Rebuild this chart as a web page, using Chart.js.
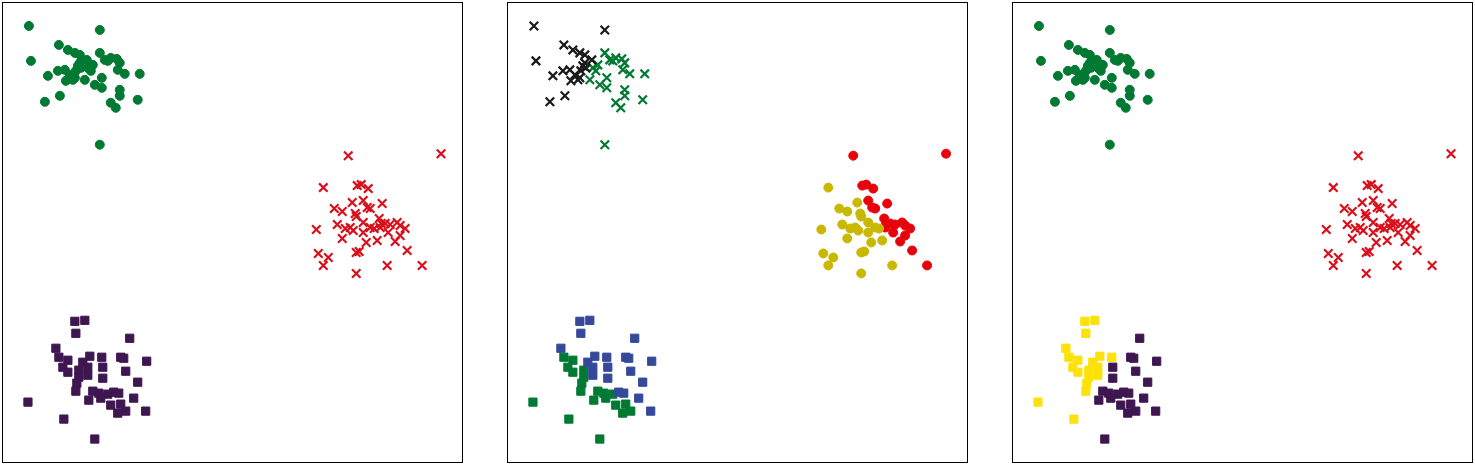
<!DOCTYPE html>
<html>
<head>
<meta charset="utf-8">
<script src="https://cdn.jsdelivr.net/npm/chart.js@4"></script>
<style>
  html, body { margin: 0; padding: 0; background: #fff; }
  body { width: 1475px; height: 467px; position: relative; overflow: hidden; }
  .panel { position: absolute; top: 2px; width: 459px; height: 459px; border: 1px solid #000; }
  .panel canvas { display: block; }
</style>
</head>
<body>
<div class="panel" style="left:2px"><canvas id="c1" width="459" height="459"></canvas></div>
<div class="panel" style="left:507px"><canvas id="c2" width="459" height="459"></canvas></div>
<div class="panel" style="left:1012px"><canvas id="c3" width="459" height="459"></canvas></div>
<script>
// point sets (same points in all three panels)
// top cluster, split as in the middle panel
const topBlack = [[26,437],[97,433],[56,418],[65,413],[72,410],[77,408],[28,402],[45,387],[55,392],[62,393],[67,388],[72,385],[75,397],[77,400],[78,395],[63,382],[57,367],[42,361],[84,403],[73,392],[70,383]];
const topGreen = [[97,410],[102,403],[108,405],[114,404],[117,400],[115,393],[122,389],[137,389],[90,398],[88,392],[82,383],[92,378],[99,385],[99,375],[117,373],[117,367],[108,360],[113,355],[135,363],[97,318],[85,395],[105,402]];

// right cluster
const rightRed = [[346,307],[439,309],[355,277],[359,278],[366,274],[361,262],[365,255],[368,254],[380,259],[377,244],[379,239],[383,239],[388,238],[395,240],[398,237],[403,234],[386,230],[393,221],[398,227],[405,212],[420,197],[378,235]];
const rightYellow = [[321,275],[350,260],[332,254],[340,251],[353,249],[354,246],[361,240],[335,238],[343,234],[348,235],[351,232],[361,230],[368,235],[372,234],[314,233],[340,224],[364,220],[375,222],[354,210],[357,211],[316,209],[326,205],[321,197],[385,197],[354,189]];

// bottom cluster: blue/green in the middle panel, yellow/purple in the right one
const bottomBlueYellow = [[72,141],[82,142],[73,129],[53,114],[87,106],[99,105],[80,100],[85,95],[85,87]];
const bottomBluePurple = [[127,124],[118,105],[121,104],[144,101],[100,95],[123,91],[100,84],[135,80],[111,70],[116,69],[131,64],[143,51]];
const bottomGreenYellow = [[56,105],[65,102],[60,95],[65,90],[76,92],[76,85],[74,79],[73,71],[25,60],[61,43]];
const bottomGreenPurple = [[90,71],[96,69],[105,68],[86,62],[98,64],[108,57],[118,58],[115,49],[123,51],[92,23]];

const topAll = topBlack.concat(topGreen);
const rightAll = rightRed.concat(rightYellow);
const bottomAll = bottomBlueYellow.concat(bottomBluePurple, bottomGreenYellow, bottomGreenPurple);

const GREEN = "#007a33";
const RED = "#d8101c";
const PURPLE = "#3e1650";
const BLACK = "#1a1a1a";
const OLIVE = "#c9b800";
const BRIGHT_RED = "#e8000b";
const BLUE = "#35489a";
const YELLOW = "#fde10a";

const toXY = (pts) => pts.map(([x, y]) => ({ x, y }));

const circles = (pts, color) => ({
  data: toXY(pts), pointStyle: "circle", pointRadius: 4.5,
  backgroundColor: color, borderColor: color, borderWidth: 1,
});
const crosses = (pts, color) => ({
  data: toXY(pts), pointStyle: "crossRot", pointRadius: 6,
  backgroundColor: color, borderColor: color, borderWidth: 2.2,
});
const squares = (pts, color) => ({
  data: toXY(pts), pointStyle: "rect", pointRadius: 5.8,
  backgroundColor: color, borderColor: color, borderWidth: 1,
});

function makeChart(id, datasets) {
  const ctx = document.getElementById(id).getContext("2d");
  return new Chart(ctx, {
    type: "scatter",
    data: { datasets: datasets.map((d) => ({ ...d, clip: false, pointHoverRadius: d.pointRadius })) },
    options: {
      responsive: false,
      animation: false,
      events: [],
      layout: { padding: 0, autoPadding: false },
      plugins: { legend: { display: false }, tooltip: { enabled: false } },
      scales: {
        x: { type: "linear", min: 0, max: 460, display: false },
        y: { type: "linear", min: 0, max: 460, display: false },
      },
    },
  });
}

// true groups
makeChart("c1", [
  circles(topAll, GREEN),
  crosses(rightAll, RED),
  squares(bottomAll, PURPLE),
]);

// six clusters
makeChart("c2", [
  crosses(topBlack, BLACK),
  crosses(topGreen, GREEN),
  circles(rightYellow, OLIVE),
  circles(rightRed, BRIGHT_RED),
  squares(bottomBlueYellow.concat(bottomBluePurple), BLUE),
  squares(bottomGreenYellow.concat(bottomGreenPurple), GREEN),
]);

// four clusters
makeChart("c3", [
  circles(topAll, GREEN),
  crosses(rightAll, RED),
  squares(bottomBluePurple.concat(bottomGreenPurple), PURPLE),
  squares(bottomBlueYellow.concat(bottomGreenYellow), YELLOW),
]);
</script>
</body>
</html>
